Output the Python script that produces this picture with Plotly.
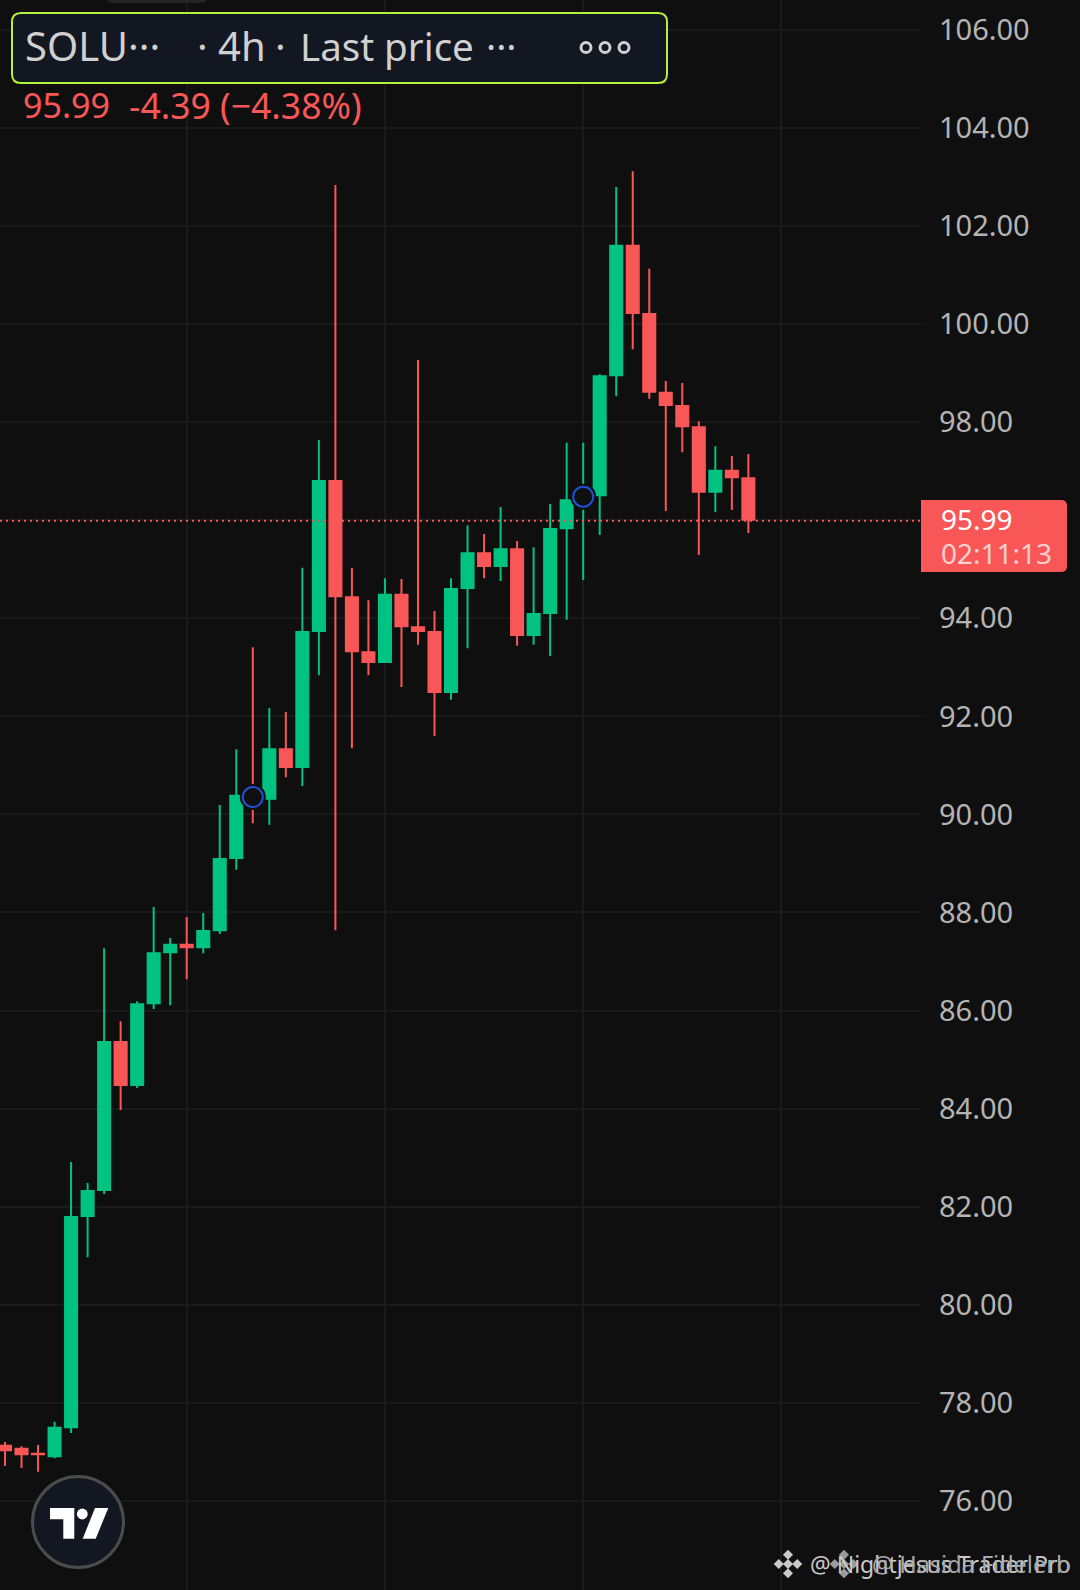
import plotly.graph_objects as go

# ---------- data ----------
candle_index = list(range(46))
open_prices = [77.14, 77.08, 76.98, 76.89, 77.48, 81.79, 82.32, 85.38, 84.46, 86.13, 87.17, 87.36, 87.27, 87.62, 89.09,
               90.40, 90.30, 91.35, 90.95, 93.72, 96.82, 94.45, 93.33, 93.09, 94.50, 93.84, 93.74, 92.48, 94.60, 95.35,
               95.05, 95.43, 93.64, 94.09, 95.82, 96.43, 96.49, 98.94, 101.62, 100.23, 98.62, 98.35, 97.92, 96.56, 97.03, 96.88]
high_prices = [77.20, 77.11, 77.14, 77.61, 82.91, 82.48, 87.27, 85.78, 86.19, 88.11, 87.48, 87.91, 87.99, 90.19, 91.33,
               93.41, 92.17, 92.09, 95.03, 97.64, 102.84, 95.03, 94.37, 94.82, 94.80, 99.27, 94.15, 94.82, 95.90, 95.72,
               96.27, 95.58, 95.45, 96.33, 97.58, 97.58, 98.98, 102.80, 103.12, 101.13, 98.84, 98.80, 98.02, 97.51, 97.31, 97.35]
low_prices = [76.71, 76.67, 76.59, 76.87, 77.38, 80.97, 82.26, 83.97, 84.42, 86.03, 86.11, 86.64, 87.17, 87.56, 88.87,
              89.82, 89.79, 90.76, 90.58, 92.84, 87.64, 91.35, 92.84, 93.09, 92.60, 93.46, 91.60, 92.34, 93.39, 94.82,
              94.76, 93.44, 93.46, 93.23, 93.97, 94.78, 95.70, 98.53, 99.49, 98.48, 96.19, 97.39, 95.29, 96.17, 96.21, 95.74]
close_prices = [77.01, 76.93, 76.93, 77.51, 81.81, 82.34, 85.38, 84.46, 86.15, 87.19, 87.36, 87.27, 87.64, 89.11, 90.40,
                90.30, 91.35, 90.95, 93.74, 96.82, 94.43, 93.31, 93.09, 94.50, 93.82, 93.72, 92.48, 94.62, 95.35, 95.05,
                95.43, 93.64, 94.11, 95.84, 96.43, 96.52, 98.96, 101.62, 100.21, 98.60, 98.33, 97.90, 96.56, 97.03, 96.86, 95.99]
signal_index = [15, 35]
signal_price = [90.355, 96.48]
y_ticks = [76, 78, 80, 82, 84, 86, 88, 90, 92, 94, 96, 98, 100, 102, 104, 106]
x_grid = [11, 23, 35, 47]
last_price = 95.99

# ---------- style ----------
W, H, PLOT_W = 1080, 1590, 921
BG, GRID = "#0f0f0f", "#1a1a1a"
GREEN, RED, LABEL = "#00c382", "#f95757", "#b4b4b4"
FONT = "Noto Sans"
STROKE_INSET = 0.02  # half of the 2px candle stroke, in price units

draw_open = [o + STROKE_INSET if c > o else o - STROKE_INSET for o, c in zip(open_prices, close_prices)]
draw_close = [c - STROKE_INSET if c > o else c + STROKE_INSET for o, c in zip(open_prices, close_prices)]


def px(x):
    return x / PLOT_W


def py(y):
    return 1 - y / H


def poly(points):
    return "M" + " L".join(f"{px(a):.5f},{py(b):.5f}" for a, b in points) + " Z"


def rrect(x0, y0, x1, y1, rl, rr):
    c = lambda a, b: f"{px(a):.5f},{py(b):.5f}"
    return (f"M{c(x0 + rl, y0)} L{c(x1 - rr, y0)} Q{c(x1, y0)} {c(x1, y0 + rr)} L{c(x1, y1 - rr)} "
            f"Q{c(x1, y1)} {c(x1 - rr, y1)} L{c(x0 + rl, y1)} Q{c(x0, y1)} {c(x0, y1 - rl)} "
            f"L{c(x0, y0 + rl)} Q{c(x0, y0)} {c(x0 + rl, y0)} Z")


def pshape(path, fill, line=None, lw=0):
    return dict(type="path", path=path, xref="paper", yref="paper", fillcolor=fill, layer="above",
                line=dict(color=line or fill, width=lw))


def circle(cx, cy, r, fill, line, lw):
    return dict(type="circle", xref="paper", yref="paper", x0=px(cx - r), x1=px(cx + r), y0=py(cy + r), y1=py(cy - r),
                fillcolor=fill, line=dict(color=line, width=lw), layer="above")


def text(s, x, y, size, color, anchor="left", font=FONT):
    return dict(text=s, x=px(x), y=py(y), xref="paper", yref="paper", xanchor=anchor, yanchor="middle", showarrow=False,
                font=dict(family=font, size=size, color=color))


def binance(cx, cy, s, color):
    d = s * 0.36
    out = []
    for ox, oy in [(0, 0), (-s * 0.66, 0), (s * 0.66, 0), (0, -s * 0.66), (0, s * 0.66)]:
        out.append(pshape(poly([(cx + ox, cy + oy - d), (cx + ox + d, cy + oy), (cx + ox, cy + oy + d), (cx + ox - d, cy + oy)]), color))
    return out


fig = go.Figure()
fig.add_trace(go.Candlestick(
    x=candle_index, open=draw_open, high=high_prices, low=low_prices, close=draw_close,
    whiskerwidth=0,
    increasing=dict(line=dict(color=GREEN, width=2), fillcolor=GREEN),
    decreasing=dict(line=dict(color=RED, width=2), fillcolor=RED),
    showlegend=False, hoverinfo="skip",
))
fig.add_trace(go.Scatter(x=signal_index, y=signal_price, mode="markers", showlegend=False, hoverinfo="skip",
                         marker=dict(size=26, color=BG, line=dict(width=0))))
fig.add_trace(go.Scatter(x=signal_index, y=signal_price, mode="markers", showlegend=False, hoverinfo="skip",
                         marker=dict(size=20, color=BG, line=dict(width=2, color="#2150d2"))))

shapes = [
    dict(type="line", xref="paper", yref="y", x0=0, x1=1, y0=last_price, y1=last_price, layer="above",
         line=dict(color=RED, width=2, dash="2px,4px")),
    pshape(rrect(107, -6, 207, 3, 6, 6), "#242424"),
    pshape(rrect(12, 13, 667, 83, 9, 9), "#131722", "#b5f23c", 2),
    circle(586, 47.5, 5, "rgba(0,0,0,0)", "#d0d0d0", 3),
    circle(605, 47.5, 5, "rgba(0,0,0,0)", "#d0d0d0", 3),
    circle(624, 47.5, 5, "rgba(0,0,0,0)", "#d0d0d0", 3),
    pshape(rrect(921, 500, 1067, 572, 0, 6), RED),
    circle(78, 1522, 45.5, "#131722", "#4c4c4c", 3),
    pshape(poly([(50, 1508), (74.3, 1508), (74.3, 1538.7), (63.3, 1538.7), (63.3, 1519.3), (50, 1519.3)]), "#ffffff"),
    circle(82.3, 1514, 5.4, "#ffffff", "#ffffff", 0),
    pshape(poly([(95, 1508), (108.3, 1508), (95.7, 1538.7), (82.7, 1538.7)]), "#ffffff"),
]
shapes += binance(788, 1564, 14, "#c9c9c9")
shapes += binance(844, 1564, 14, "#9a9a9a")

annotations = [
    text("SOLU···", 23, 46, 40, "#d0d0d0"),
    text("·", 195, 46, 40, "#d0d0d0"),
    text("4h", 216, 46, 40, "#d0d0d0"),
    text("·", 273, 46, 40, "#d0d0d0"),
    text("Last price", 298, 46, 38.5, "#d0d0d0"),
    text("···", 484, 46, 38, "#d0d0d0"),
    text("95.99", 21, 105, 34, RED),
    text("-4.39 (−4.38%)", 127, 105, 35.5, RED),
    text("95.99", 939, 519, 28, "#ffffff"),
    text("02:11:13", 939, 553, 28, "#fcd0d0"),
    text("@ Nightjesus Trader Pro", 808, 1564, 23, "#c9c9c9"),
    text("@ Hasida Fidelerb", 870, 1564, 23.5, "#a8a8a8"),
]

fig.update_layout(
    width=W, height=H, margin=dict(l=0, r=W - PLOT_W, t=0, b=0, pad=0),
    paper_bgcolor=BG, plot_bgcolor=BG, showlegend=False, boxgap=0.27, boxgroupgap=0,
    shapes=shapes, annotations=annotations, dragmode=False,
    xaxis=dict(range=[-0.3027, 55.45], rangeslider=dict(visible=False), tickvals=x_grid, showticklabels=False,
               showgrid=True, gridcolor=GRID, gridwidth=1.5, zeroline=False, ticks="", showline=False, fixedrange=True),
    yaxis=dict(range=[74.18, 106.613], side="right", tickvals=y_ticks, ticktext=[f"{v:.2f}" for v in y_ticks],
               showgrid=True, gridcolor=GRID, gridwidth=1.5, zeroline=False, ticks="", showline=False, fixedrange=True,
               tickfont=dict(family=FONT, size=29, color=LABEL), ticklabelstandoff=17),
)
fig.write_html("out.html", config=dict(displayModeBar=False),
               post_script="document.body.style.margin='0';document.body.style.background='#0f0f0f';")
